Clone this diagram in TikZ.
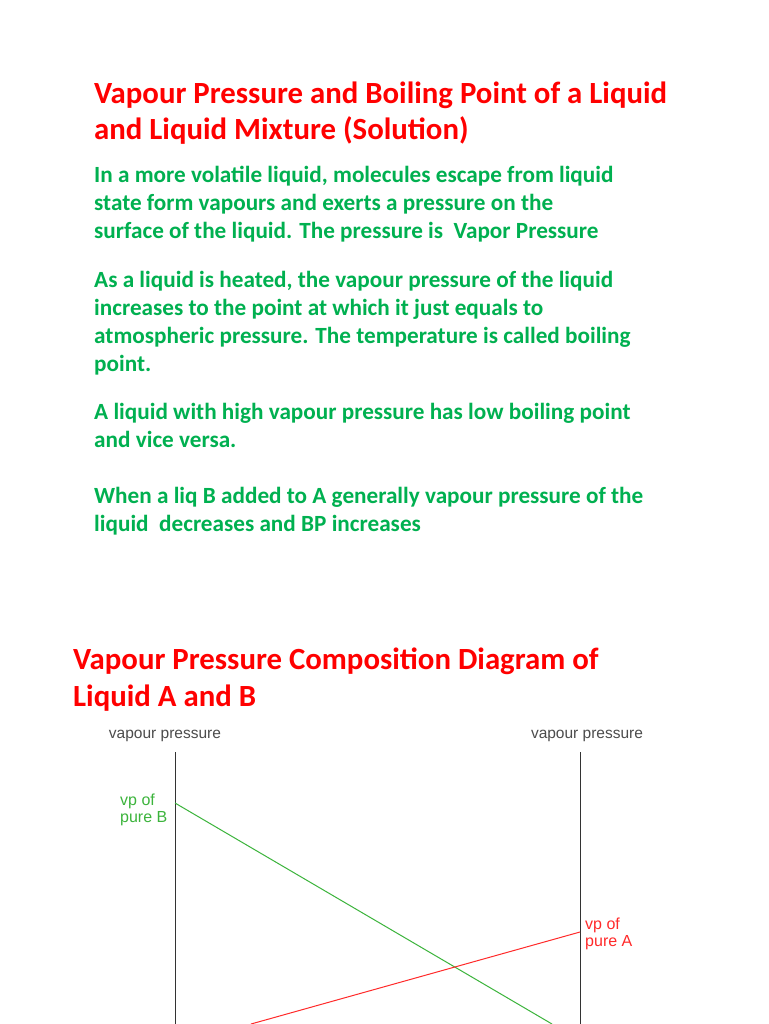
\documentclass[tikz,border=0pt]{standalone}
\usepackage{fontspec}
\setmainfont{Carlito}
\newfontfamily\lab{Liberation Sans}
\definecolor{tred}{HTML}{FF0000}
\definecolor{tgreen}{HTML}{00B050}
\definecolor{cgreen}{HTML}{3CB43C}
\definecolor{cred}{HTML}{FF2A2A}
\begin{document}
\begin{tikzpicture}[x=1pt,y=-1pt,
  ttl/.style={anchor=base west,inner sep=0,text=tred,font=\bfseries\fontsize{30.8}{34}\selectfont},
  bod/.style={anchor=base west,inner sep=0,text=tgreen,font=\bfseries\fontsize{23.2}{26}\selectfont},
  axl/.style={anchor=base,inner sep=0,text=black!70,font=\lab\fontsize{15.5}{16}\selectfont},
  vpl/.style={align=left,inner sep=0,font=\lab\fontsize{16}{17}\selectfont}]
\useasboundingbox[fill=white] (0,0) rectangle (768,1024);
\node[ttl] (t1) at (94,104) {Vapour Pressure and Boiling Point of a Liquid};
\node[ttl] (t2) at (94,140) {and Liquid Mixture (Solution)};
\node[bod] (p1) at (94,183) {In a more volatile liquid, molecules escape from liquid};
\node[bod] (p2) at (94,211) {state form vapours and exerts a pressure on the};
\node[bod] (p3) at (94,239) {surface of the liquid. The pressure is\ \ Vapor Pressure};
\node[bod] (p4) at (94,287) {As a liquid is heated, the vapour pressure of the liquid};
\node[bod] (p5) at (94,315) {increases to the point at which it just equals to};
\node[bod] (p6) at (94,343) {atmospheric pressure. The temperature is called boiling};
\node[bod] (p7) at (94,371) {point.};
\node[bod] (p8) at (94,419) {A liquid with high vapour pressure has low boiling point};
\node[bod] (p9) at (94,447) {and vice versa.};
\node[bod] (p10) at (94,503) {When a liq B added to A generally vapour pressure of the};
\node[bod] (p11) at (94,531) {liquid\ \ decreases and BP increases};
\node[ttl] (t3) at (73,669) {Vapour Pressure Composition Diagram of};
\node[ttl] (t4) at (73,706) {Liquid A and B};
\node[axl] (al) at (165,738) {vapour pressure};
\node[axl] (ar) at (587,738) {vapour pressure};
\coordinate (lt) at (175,752); \coordinate (lb) at (175,1024);
\coordinate (rt) at (580,752); \coordinate (rb) at (580,1024);
\draw[black!80,line width=1pt] (lt) -- (lb);
\draw[black!80,line width=1pt] (rt) -- (rb);
\coordinate (gB) at (175,803); \coordinate (gE) at (552,1024);
\coordinate (rA) at (580,932); \coordinate (rS) at (251,1024);
\draw[cgreen,line width=1pt] (gB) -- (gE);
\draw[cred,line width=1pt] (rS) -- (rA);
\node[vpl,text=cgreen,anchor=north west] (vb) at (120,794) {vp of\\pure B};
\node[vpl,text=cred,anchor=north west] (va) at (585,918) {vp of\\pure A};
\end{tikzpicture}
\end{document}
